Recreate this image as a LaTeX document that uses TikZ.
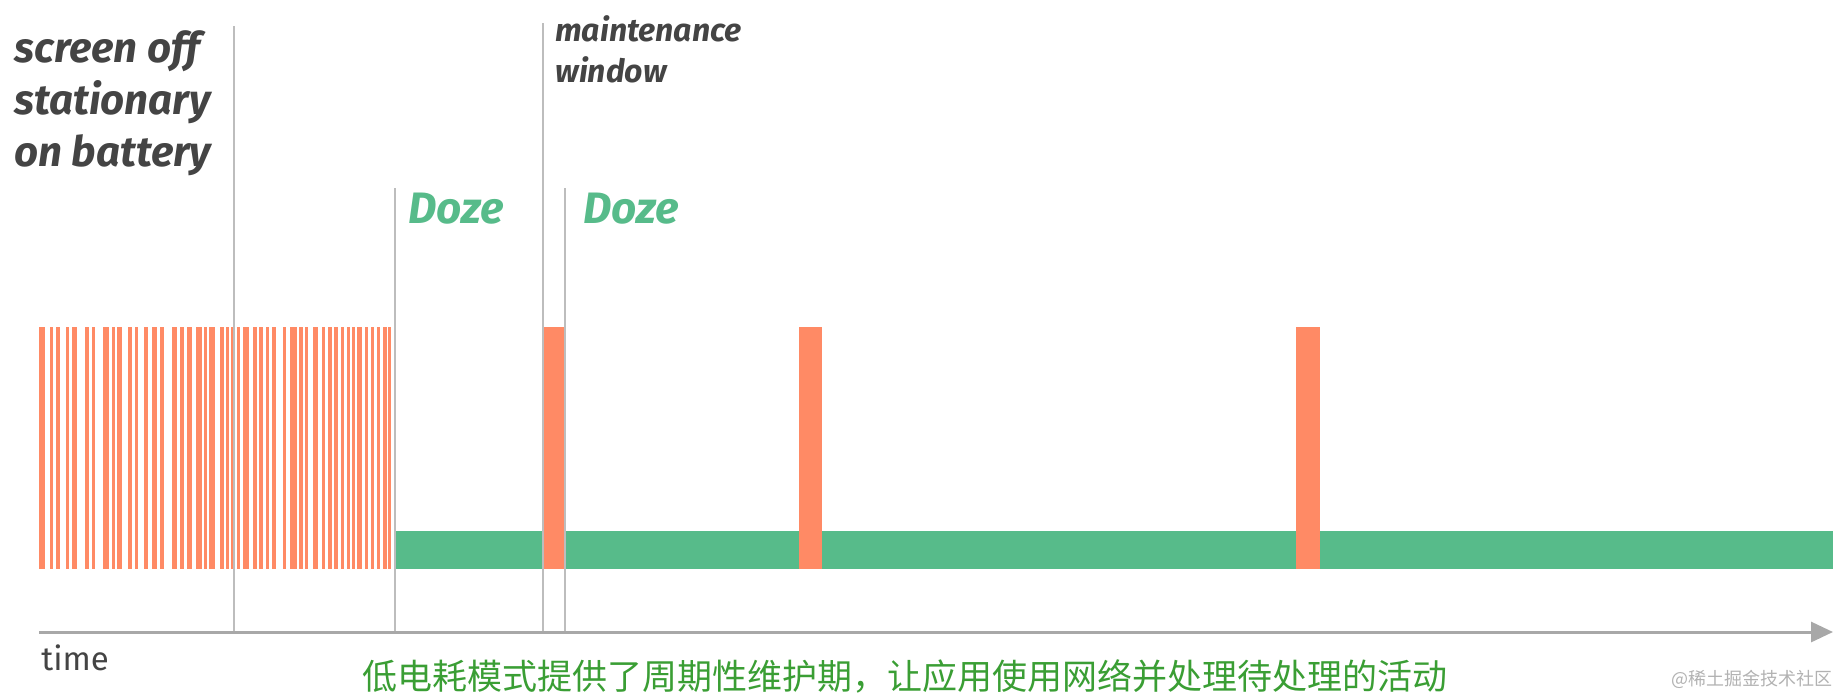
\documentclass[tikz,border=0pt]{standalone}
\usepackage{fontspec}
\setmainfont{Fira Sans}
\newfontfamily\cjk{Noto Sans CJK SC}
\usetikzlibrary{arrows.meta}
\definecolor{dozegreen}{HTML}{57BB8A}
\definecolor{wachorange}{HTML}{FF8A65}
\definecolor{textgrau}{HTML}{444444}
\definecolor{liniengrau}{HTML}{BDBDBD}
\definecolor{achsengrau}{HTML}{A8A8A8}
\definecolor{textgruen}{HTML}{3A9E34}
\begin{document}
\begin{tikzpicture}[x=0.5pt, y=-0.5pt, >={Triangle[length=11pt,width=10pt]}] % 1 Einheit = 1 Pixel

    % Rahmen
    \useasboundingbox (0,0) rectangle (1842,698);

    % Aktivitaet vor Doze
    \foreach \a/\b in {39/45,50/53,56/60,66/69,72/77,85/89,92/95,103/109,112/115,117/122,128/132,135/138,144/148,152/157,160/164,172/177,180/184,187/192,196/202,204/207,209/215,220/224,226/229,231/235,237/240,243/249,253/257,259/263,266/269,272/276,283/286,290/297,299/303,305/308,313/318,322/325,328/332,334/338,341/344,347/350,352/355,357/362,365/368,371/374,377/380,383/387,388/391}
        \fill[wachorange] (\a,327) rectangle (\b,569);

    % Doze-Balken
    \fill[dozegreen] (395,531) rectangle (1833,569);

    % Wartungsfenster
    \foreach \a/\b in {543/565,799/822,1296/1320}
        \fill[wachorange] (\a,327) rectangle (\b,569);

    % Trennlinien
    \draw[liniengrau, line width=1pt] (234,26) -- (234,632);
    \draw[liniengrau, line width=1pt] (395,188) -- (395,632);
    \draw[liniengrau, line width=1pt] (543,23) -- (543,632);
    \draw[liniengrau, line width=1pt] (565,188) -- (565,632);

    % Zeitachse
    \coordinate (zeitStart) at (39,632);
    \coordinate (zeitEnde) at (1833,632);
    \draw[->, achsengrau, line width=1.5pt] (zeitStart) -- (zeitEnde);

    % Beschriftungen
    \node (bedingung) at (14,103) [anchor=west, align=left, inner sep=0pt, text=textgrau, font=\fontsize{21}{26}\selectfont\bfseries\itshape] {screen off\\stationary\\on battery};
    \node (wartung) at (555,49) [anchor=west, align=left, inner sep=0pt, text=textgrau, font=\fontsize{16}{20.5}\selectfont\bfseries\itshape] {maintenance\\window};
    \node (doze1) at (408,209) [anchor=west, inner sep=0pt, text=dozegreen, font=\fontsize{22}{26}\selectfont\bfseries\itshape] {Doze};
    \node (doze2) at (583,209) [anchor=west, inner sep=0pt, text=dozegreen, font=\fontsize{22}{26}\selectfont\bfseries\itshape] {Doze};
    \node (zeit) at (41,658) [anchor=west, inner sep=0pt, text=textgrau, font=\fontsize{16.5}{20}\selectfont] {time};
    \node (erklaerung) at (905,676) [inner sep=0pt, text=textgruen, font=\cjk\fontsize{17.5}{20}\selectfont] {低电耗模式提供了周期性维护期，让应用使用网络并处理待处理的活动};
    \node (wasserzeichen) at (1833,679) [anchor=east, inner sep=0pt, text=black!30, font=\cjk\fontsize{9}{10}\selectfont] {@稀土掘金技术社区};

\end{tikzpicture}
\end{document}
